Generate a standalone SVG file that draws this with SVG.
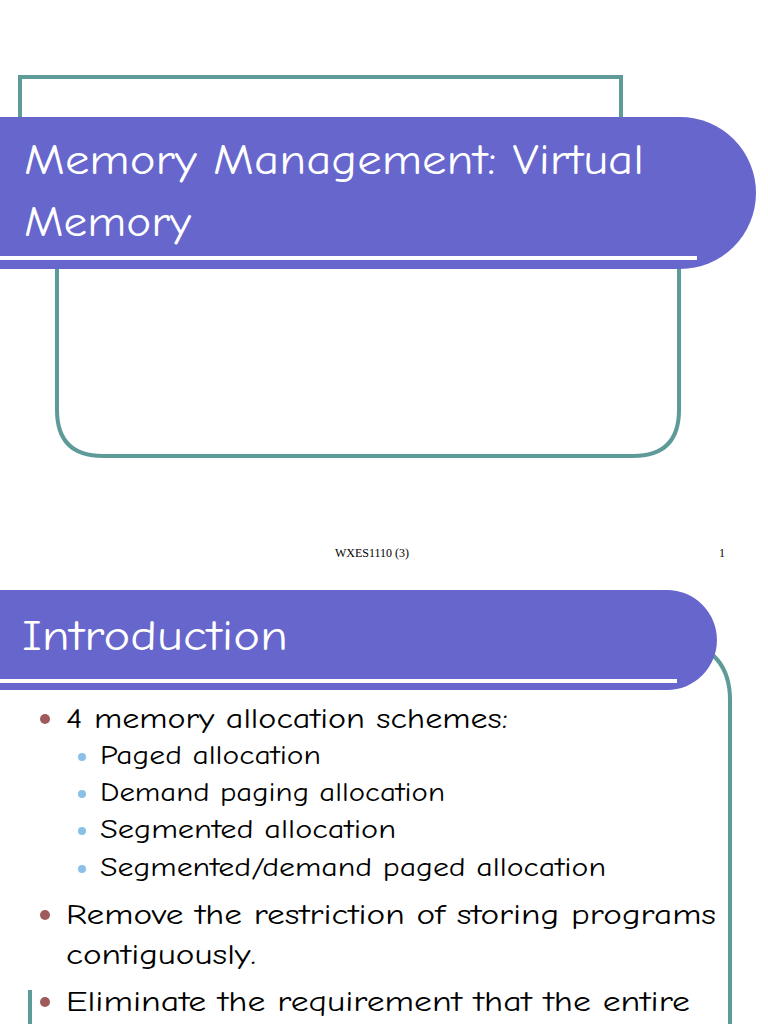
<svg xmlns="http://www.w3.org/2000/svg" width="768" height="1024" viewBox="0 0 768 1024">
<style>
.t{font-family:"Comic Neue","DejaVu Sans","Liberation Sans",sans-serif;}
.w{fill:#fff}
.k{fill:#000}
.tl{fill:none;stroke:#5e9a98;stroke-width:4}
.band{fill:#6666cc}
</style>
<rect width="768" height="1024" fill="#fff"/>
<g id="slide1">
<rect class="tl" x="20" y="77" width="601" height="60"/>
<path class="tl" d="M57 240 V410 Q57 456 103 456 H633 Q679 456 679 410 V240"/>
<path class="band" d="M0 117 H680 A76 76 0 0 1 680 269 H0 Z"/>
<line x1="0" y1="258" x2="697" y2="258" stroke="#fff" stroke-width="4"/>
<text class="t w" x="24" y="174" font-size="42" textLength="620" lengthAdjust="spacingAndGlyphs">Memory Management: Virtual</text>
<text class="t w" x="24" y="236" font-size="42" textLength="167" lengthAdjust="spacingAndGlyphs">Memory</text>
<text x="335" y="557" font-family="Liberation Serif,serif" font-size="12">WXES1110   (3)</text>
<text x="719" y="557" font-family="Liberation Serif,serif" font-size="12">1</text>
</g>
<g id="slide2">
<path class="tl" d="M680 640 Q730 650 730 700 V1024 M30 990 V1024"/>
<path class="band" d="M0 590 H667 A50 50 0 0 1 667 690 H0 Z"/>
<line x1="0" y1="681" x2="677" y2="681" stroke="#fff" stroke-width="4"/>
<text class="t w" x="22" y="650" font-size="42" textLength="266" lengthAdjust="spacingAndGlyphs">Introduction</text>
<g font-size="28" class="t k">
<circle cx="45" cy="719" r="5" fill="#a05a5a"/>
<text x="66" y="728" textLength="442" lengthAdjust="spacingAndGlyphs">4 memory allocation schemes:</text>
<circle cx="82" cy="757" r="4" fill="#88c0e8"/>
<text x="100" y="764" font-size="26" textLength="221" lengthAdjust="spacingAndGlyphs">Paged allocation</text>
<circle cx="82" cy="794" r="4" fill="#88c0e8"/>
<text x="100" y="801" font-size="26" textLength="345" lengthAdjust="spacingAndGlyphs">Demand paging allocation</text>
<circle cx="82" cy="831" r="4" fill="#88c0e8"/>
<text x="100" y="838" font-size="26" textLength="296" lengthAdjust="spacingAndGlyphs">Segmented allocation</text>
<circle cx="82" cy="869" r="4" fill="#88c0e8"/>
<text x="100" y="876" font-size="26" textLength="506" lengthAdjust="spacingAndGlyphs">Segmented/demand paged allocation</text>
<circle cx="45" cy="915" r="5" fill="#a05a5a"/>
<text x="66" y="924" textLength="650" lengthAdjust="spacingAndGlyphs">Remove the restriction of storing programs</text>
<text x="66" y="964" textLength="190" lengthAdjust="spacingAndGlyphs">contiguously.</text>
<circle cx="45" cy="1002" r="5" fill="#a05a5a"/>
<text x="66" y="1011" textLength="624" lengthAdjust="spacingAndGlyphs">Eliminate the requirement that the entire</text>
</g>
</g>
</svg>
